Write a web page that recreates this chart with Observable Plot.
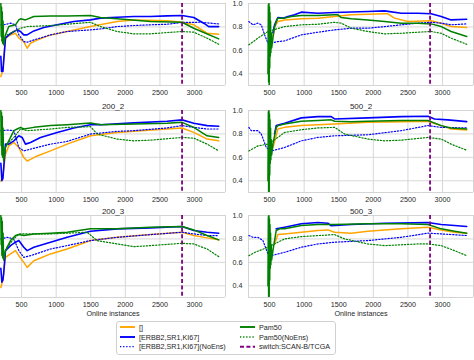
<!DOCTYPE html>
<html>
<head>
<meta charset="utf-8">
<script src="https://cdn.jsdelivr.net/npm/d3@7"></script>
<script src="https://cdn.jsdelivr.net/npm/@observablehq/plot@0.6"></script>
<style>
  html, body { margin: 0; padding: 0; background: #fff; }
  #wrap { position: relative; width: 474px; height: 360px; overflow: hidden; background: #fff; }
</style>
</head>
<body>
<div id="wrap"></div>
<script>
// ---------- data (online instances, accuracy) ----------
const xTicks = [500, 1000, 1500, 2000, 2500, 3000];
const yTicks = [0.4, 0.6, 0.8, 1.0];
const switchAt = [2820];
const seriesNames = ["[]", "[ERBB2,SR1,KI67]", "[ERBB2,SR1,KI67](NoEns)", "Pam50", "Pam50(NoEns)"];
const switchName = "switch:SCAN-B/TCGA";
const panelTitles = ["200_1", "500_1", "200_2", "500_2", "200_3", "500_3"];
const xLabel = "Online instances";

// panel 200_1
const p200_1_none = [[200,0.376],[215,0.40],[230,0.45],[267,0.704],[340,0.732],[412,0.746],[460,0.704],[532,0.675],[580,0.618],[629,0.661],[725,0.689],[918,0.732],[1158,0.761],[1496,0.803],[1881,0.846],[2122,0.860],[2604,0.852],[2820,0.840],[2989,0.818],[3182,0.746],[3350,0.738]];
const p200_1_erbb = [[200,0.55],[210,0.42],[220,0.45],[230,0.42],[240,0.50],[267,0.704],[315,0.732],[388,0.761],[436,0.775],[484,0.761],[532,0.732],[580,0.732],[677,0.766],[821,0.795],[1014,0.818],[1255,0.846],[1496,0.860],[1640,0.875],[1881,0.883],[2122,0.889],[2363,0.889],[2604,0.894],[2820,0.897],[2989,0.880],[3133,0.832],[3206,0.803],[3350,0.803]];
const p200_1_erbbNoEns = [[200,0.818],[243,0.818],[340,0.832],[412,0.818],[460,0.732],[532,0.675],[580,0.669],[677,0.689],[918,0.732],[1158,0.761],[1496,0.775],[1640,0.783],[1881,0.803],[2122,0.812],[2363,0.818],[2604,0.823],[2820,0.838],[3085,0.840],[3230,0.832],[3350,0.826]];
const p200_1_pam50 = [[200,1.0],[205,0.72],[210,0.97],[215,0.68],[220,0.93],[226,0.66],[232,0.85],[240,0.647],[267,0.732],[315,0.803],[412,0.818],[460,0.860],[484,0.869],[556,0.860],[677,0.889],[918,0.894],[1158,0.894],[1496,0.897],[1640,0.880],[1881,0.869],[2363,0.846],[2820,0.840],[2989,0.789],[3350,0.698]];
const p200_1_pam50NoEns = [[291,0.732],[388,0.761],[484,0.789],[580,0.803],[918,0.812],[1158,0.823],[1496,0.840],[1640,0.803],[1881,0.761],[2122,0.741],[2363,0.741],[2604,0.752],[2820,0.761],[2989,0.755],[3182,0.704],[3350,0.652]];

// panel 500_1
const p500_1_none = [[548,0.72],[572,0.80],[620,0.846],[717,0.860],[958,0.869],[1198,0.875],[1439,0.889],[1680,0.903],[2162,0.912],[2210,0.912],[2306,0.875],[2499,0.846],[2836,0.852],[2981,0.832],[3125,0.803],[3350,0.795]];
const p500_1_erbb = [[548,0.75],[572,0.818],[620,0.880],[693,0.875],[765,0.889],[861,0.903],[958,0.926],[1198,0.917],[1439,0.923],[1921,0.932],[2162,0.937],[2403,0.917],[2644,0.917],[2836,0.912],[2981,0.889],[3125,0.860],[3350,0.866]];
const p500_1_erbbNoEns = [[200,0.846],[259,0.818],[331,0.832],[380,0.818],[428,0.732],[476,0.661],[524,0.661],[620,0.675],[717,0.681],[958,0.732],[1198,0.755],[1439,0.775],[1680,0.789],[1921,0.789],[2162,0.803],[2403,0.818],[2644,0.832],[2836,0.840],[2981,0.832],[3125,0.818],[3350,0.826]];
const p500_1_pam50 = [[476,0.40],[482,0.99],[486,0.33],[490,1.0],[494,0.30],[498,0.97],[502,0.45],[506,0.92],[510,0.55],[514,0.85],[518,0.58],[524,0.75],[530,0.62],[548,0.704],[572,0.80],[596,0.846],[620,0.875],[717,0.875],[813,0.889],[958,0.897],[1198,0.897],[1439,0.903],[1487,0.903],[1536,0.880],[1680,0.869],[1921,0.860],[2162,0.846],[2403,0.832],[2644,0.832],[2836,0.826],[2981,0.803],[3125,0.761],[3350,0.718]];
const p500_1_pam50NoEns = [[200,0.647],[331,0.704],[476,0.761],[717,0.803],[958,0.818],[1198,0.823],[1439,0.840],[1536,0.832],[1680,0.789],[1921,0.761],[2162,0.741],[2403,0.746],[2644,0.755],[2836,0.761],[2981,0.746],[3125,0.704],[3350,0.652]];

// panel 200_2
const p200_2_none = [[200,0.397],[230,0.45],[267,0.626],[315,0.698],[388,0.727],[460,0.684],[532,0.598],[580,0.569],[629,0.583],[725,0.612],[918,0.655],[1158,0.713],[1496,0.784],[1881,0.813],[2122,0.822],[2604,0.842],[2820,0.851],[2989,0.813],[3182,0.756],[3350,0.741]];
const p200_2_erbb = [[200,0.55],[215,0.40],[230,0.42],[240,0.50],[267,0.713],[315,0.713],[388,0.741],[460,0.784],[508,0.770],[556,0.713],[629,0.727],[773,0.770],[1014,0.813],[1255,0.851],[1496,0.879],[1640,0.879],[2122,0.894],[2604,0.908],[2820,0.920],[2989,0.891],[3182,0.871],[3350,0.865]];
const p200_2_erbbNoEns = [[200,0.828],[291,0.833],[388,0.828],[460,0.684],[532,0.655],[629,0.670],[918,0.713],[1158,0.736],[1496,0.799],[1881,0.822],[2122,0.828],[2604,0.851],[2820,0.871],[2989,0.856],[3182,0.842],[3350,0.842]];
const p200_2_pam50 = [[200,1.0],[205,0.70],[210,0.98],[215,0.62],[220,0.95],[226,0.60],[232,0.85],[240,0.57],[267,0.684],[340,0.770],[388,0.828],[436,0.842],[484,0.856],[532,0.842],[677,0.856],[918,0.871],[1158,0.879],[1496,0.894],[1640,0.879],[2122,0.885],[2604,0.891],[2820,0.899],[2989,0.856],[3182,0.784],[3350,0.770]];
const p200_2_pam50NoEns = [[291,0.713],[388,0.770],[484,0.842],[580,0.828],[918,0.842],[1158,0.856],[1496,0.862],[1592,0.799],[1881,0.756],[2122,0.741],[2363,0.747],[2820,0.770],[2989,0.764],[3182,0.713],[3350,0.655]];

// panel 500_2
const p500_2_none = [[548,0.684],[620,0.842],[717,0.856],[958,0.871],[1198,0.879],[1439,0.885],[1921,0.899],[2403,0.905],[2788,0.908],[2981,0.871],[3125,0.842],[3350,0.833]];
const p500_2_erbb = [[572,0.80],[596,0.871],[717,0.891],[958,0.937],[1198,0.948],[1391,0.948],[1439,0.928],[1921,0.937],[2403,0.948],[2788,0.951],[2884,0.928],[3077,0.920],[3350,0.905]];
const p500_2_erbbNoEns = [[200,0.856],[235,0.828],[331,0.828],[380,0.799],[452,0.684],[524,0.655],[717,0.684],[958,0.741],[1198,0.770],[1439,0.784],[1921,0.793],[2403,0.828],[2788,0.871],[2981,0.856],[3350,0.851]];
const p500_2_pam50 = [[476,0.40],[482,0.99],[486,0.30],[490,1.0],[494,0.31],[498,0.97],[502,0.45],[506,0.92],[510,0.55],[514,0.85],[518,0.58],[524,0.75],[530,0.62],[548,0.713],[596,0.856],[620,0.871],[717,0.885],[958,0.908],[1198,0.914],[1391,0.920],[1439,0.908],[1680,0.905],[1921,0.908],[2403,0.914],[2788,0.914],[2981,0.871],[3125,0.851],[3350,0.842]];
const p500_2_pam50NoEns = [[200,0.655],[331,0.698],[476,0.713],[620,0.770],[717,0.813],[958,0.836],[1198,0.851],[1439,0.856],[1584,0.799],[1921,0.756],[2162,0.741],[2403,0.747],[2788,0.770],[2981,0.756],[3125,0.713],[3350,0.661]];

// panel 200_3
const p200_3_none = [[200,0.386],[230,0.45],[267,0.643],[340,0.672],[412,0.700],[460,0.657],[532,0.600],[580,0.557],[677,0.614],[918,0.672],[1158,0.714],[1496,0.786],[1881,0.814],[2363,0.837],[2820,0.857],[2989,0.829],[3182,0.809],[3350,0.792]];
const p200_3_erbb = [[200,0.55],[215,0.43],[230,0.45],[240,0.50],[267,0.700],[340,0.743],[412,0.772],[460,0.786],[532,0.729],[580,0.700],[677,0.729],[918,0.772],[1158,0.814],[1496,0.866],[1881,0.886],[2363,0.894],[2820,0.906],[2989,0.872],[3182,0.857],[3350,0.849]];
const p200_3_erbbNoEns = [[200,0.800],[291,0.814],[388,0.800],[460,0.700],[532,0.643],[629,0.657],[918,0.714],[1158,0.743],[1496,0.786],[1881,0.814],[2363,0.837],[2820,0.857],[2989,0.843],[3182,0.829],[3350,0.829]];
const p200_3_pam50 = [[200,1.0],[205,0.75],[210,0.98],[215,0.66],[220,0.95],[226,0.64],[232,0.85],[240,0.62],[267,0.700],[340,0.786],[412,0.829],[460,0.837],[532,0.829],[677,0.843],[918,0.849],[1158,0.857],[1496,0.886],[1881,0.886],[2363,0.900],[2820,0.906],[2989,0.877],[3182,0.829],[3350,0.792]];
const p200_3_pam50NoEns = [[291,0.729],[388,0.800],[460,0.843],[580,0.843],[918,0.843],[1158,0.849],[1447,0.857],[1592,0.786],[1881,0.757],[2122,0.734],[2363,0.743],[2820,0.763],[2989,0.757],[3182,0.714],[3350,0.649]];

// panel 500_3
const p500_3_none = [[572,0.757],[620,0.837],[717,0.843],[958,0.857],[1198,0.872],[1343,0.877],[1439,0.857],[1680,0.849],[1921,0.866],[2403,0.886],[2788,0.900],[2981,0.877],[3173,0.857],[3350,0.849]];
const p500_3_erbb = [[596,0.886],[717,0.900],[958,0.929],[1198,0.940],[1343,0.934],[1391,0.912],[1680,0.923],[2162,0.934],[2788,0.940],[2981,0.923],[3173,0.914],[3350,0.906]];
const p500_3_erbbNoEns = [[200,0.829],[259,0.814],[331,0.814],[404,0.786],[476,0.672],[524,0.657],[717,0.686],[958,0.729],[1198,0.757],[1439,0.772],[1921,0.786],[2403,0.814],[2788,0.849],[2981,0.843],[3350,0.829]];
const p500_3_pam50 = [[476,0.40],[482,0.99],[486,0.30],[490,1.0],[494,0.31],[498,0.97],[502,0.45],[506,0.92],[510,0.55],[514,0.85],[518,0.58],[524,0.75],[530,0.62],[548,0.700],[596,0.872],[645,0.886],[717,0.886],[958,0.914],[1198,0.923],[1439,0.923],[1921,0.929],[2403,0.929],[2788,0.923],[2981,0.886],[3173,0.866],[3350,0.849]];
const p500_3_pam50NoEns = [[200,0.657],[289,0.686],[476,0.729],[620,0.772],[717,0.800],[958,0.820],[1439,0.837],[1584,0.800],[1921,0.757],[2162,0.743],[2644,0.757],[2788,0.757],[2981,0.743],[3173,0.700],[3350,0.657]];

// ---------- styles ----------
const seriesColors = ["#ffa500", "#0000ff", "#0000ff", "#008000", "#008000"];
const seriesDash = [null, null, "1.3,1.8", null, "1.3,1.8"];
const seriesWidth = [1.5, 1.6, 1.2, 1.5, 1.2];
const switchColor = "#800080";
const gridColor = "#d4d4d4";
const FONT = "'Liberation Sans', Arial, sans-serif";

const panels = [
  {title: panelTitles[0], col: 0, row: 0, series: [p200_1_none, p200_1_erbb, p200_1_erbbNoEns, p200_1_pam50, p200_1_pam50NoEns]},
  {title: panelTitles[1], col: 1, row: 0, series: [p500_1_none, p500_1_erbb, p500_1_erbbNoEns, p500_1_pam50, p500_1_pam50NoEns]},
  {title: panelTitles[2], col: 0, row: 1, series: [p200_2_none, p200_2_erbb, p200_2_erbbNoEns, p200_2_pam50, p200_2_pam50NoEns]},
  {title: panelTitles[3], col: 1, row: 1, series: [p500_2_none, p500_2_erbb, p500_2_erbbNoEns, p500_2_pam50, p500_2_pam50NoEns]},
  {title: panelTitles[4], col: 0, row: 2, series: [p200_3_none, p200_3_erbb, p200_3_erbbNoEns, p200_3_pam50, p200_3_pam50NoEns]},
  {title: panelTitles[5], col: 1, row: 2, series: [p500_3_none, p500_3_erbb, p500_3_erbbNoEns, p500_3_pam50, p500_3_pam50NoEns]}
];

const xDomain = [195, 3448];
const yDomain = [0.3, 1.0];
const rowTop = [3, 110, 215];
const plotH = 82;
const mTop = 14, mBottom = 26;
const wrap = document.getElementById("wrap");

for (const p of panels) {
  const isRight = p.col === 1;
  const isBottom = p.row === 2;
  const mLeft = isRight ? 38 : 0;
  const mRight = 1;
  const width = isRight ? 264 : 226;
  const left = isRight ? 210 : 0;
  const marks = [
    Plot.ruleX(xTicks, {stroke: gridColor, strokeWidth: 0.9}),
    Plot.ruleY(yTicks.filter(v => v < 1), {stroke: gridColor, strokeWidth: 0.9}),
    Plot.ruleY(yDomain, {stroke: gridColor, strokeWidth: 1}),
    Plot.ruleX(isRight ? xDomain : [xDomain[1]], {stroke: gridColor, strokeWidth: 1})
  ];
  p.series.forEach((data, i) => {
    marks.push(Plot.line(data, {
      x: d => d[0], y: d => d[1],
      stroke: seriesColors[i], strokeWidth: seriesWidth[i],
      strokeDasharray: seriesDash[i] || undefined, clip: true
    }));
  });
  marks.push(Plot.ruleX(switchAt, {stroke: switchColor, strokeWidth: 1.8, strokeDasharray: "4,2.4"}));
  if (p.row > 0) {
    marks.push(Plot.text([p.title], {frameAnchor: "top", dy: -7, fontSize: 8, fill: "#262626"}));
  }
  if (isBottom) {
    marks.push(Plot.text([xLabel], {frameAnchor: "bottom", dy: 18, fill: "#262626"}));
  }
  const svg = Plot.plot({
    width, height: mTop + plotH + mBottom,
    marginLeft: mLeft, marginRight: mRight, marginTop: mTop, marginBottom: mBottom,
    style: {background: "transparent", fontFamily: FONT, fontSize: "7.2px", color: "#262626", overflow: "visible"},
    x: {domain: xDomain, ticks: xTicks, tickFormat: d => String(d), tickSize: 0, tickPadding: 4.5, label: null},
    y: {domain: yDomain, ticks: yTicks, tickFormat: d3.format(".1f"), tickSize: 0, tickPadding: 6, label: null, axis: isRight ? "left" : null},
    marks
  });
  svg.style.position = "absolute";
  svg.style.left = left + "px";
  svg.style.top = (rowTop[p.row] - mTop) + "px";
  wrap.appendChild(svg);
}

// ---------- legend ----------
const legendItems = [
  {name: seriesNames[0], color: seriesColors[0], dash: null, col: 0, r: 0, w: 1.9},
  {name: seriesNames[1], color: seriesColors[1], dash: null, col: 0, r: 1, w: 1.9},
  {name: seriesNames[2], color: seriesColors[2], dash: "1.3,1.8", col: 0, r: 2, w: 1.3},
  {name: seriesNames[3], color: seriesColors[3], dash: null, col: 1, r: 0, w: 1.9},
  {name: seriesNames[4], color: seriesColors[4], dash: "1.3,1.8", col: 1, r: 1, w: 1.3},
  {name: switchName, color: switchColor, dash: "4,2.4", col: 1, r: 2, w: 1.9}
];
const LX = 116, LY = 321, LW = 219, LH = 33;
const lsvg = d3.create("svg").attr("width", LW + 2).attr("height", LH + 2)
  .style("position", "absolute").style("left", LX + "px").style("top", LY + "px")
  .style("font-family", FONT).style("font-size", "7.2px");
lsvg.append("rect").attr("x", 0.5).attr("y", 0.5).attr("width", LW).attr("height", LH)
  .attr("rx", 2.5).attr("fill", "#fff").attr("stroke", "#cccccc").attr("stroke-width", 0.9);
const colX = [[4, 19, 23], [124, 139, 143]];
const rowY = [6, 16, 25.7];
for (const it of legendItems) {
  const [x0, x1, tx] = colX[it.col];
  const y = rowY[it.r];
  lsvg.append("line").attr("x1", x0).attr("x2", x1).attr("y1", y).attr("y2", y)
    .attr("stroke", it.color).attr("stroke-width", it.w)
    .attr("stroke-dasharray", it.dash);
  lsvg.append("text").attr("x", tx).attr("y", y).attr("dy", "0.35em")
    .attr("fill", "#262626").text(it.name);
}
wrap.appendChild(lsvg.node());
</script>
</body>
</html>
